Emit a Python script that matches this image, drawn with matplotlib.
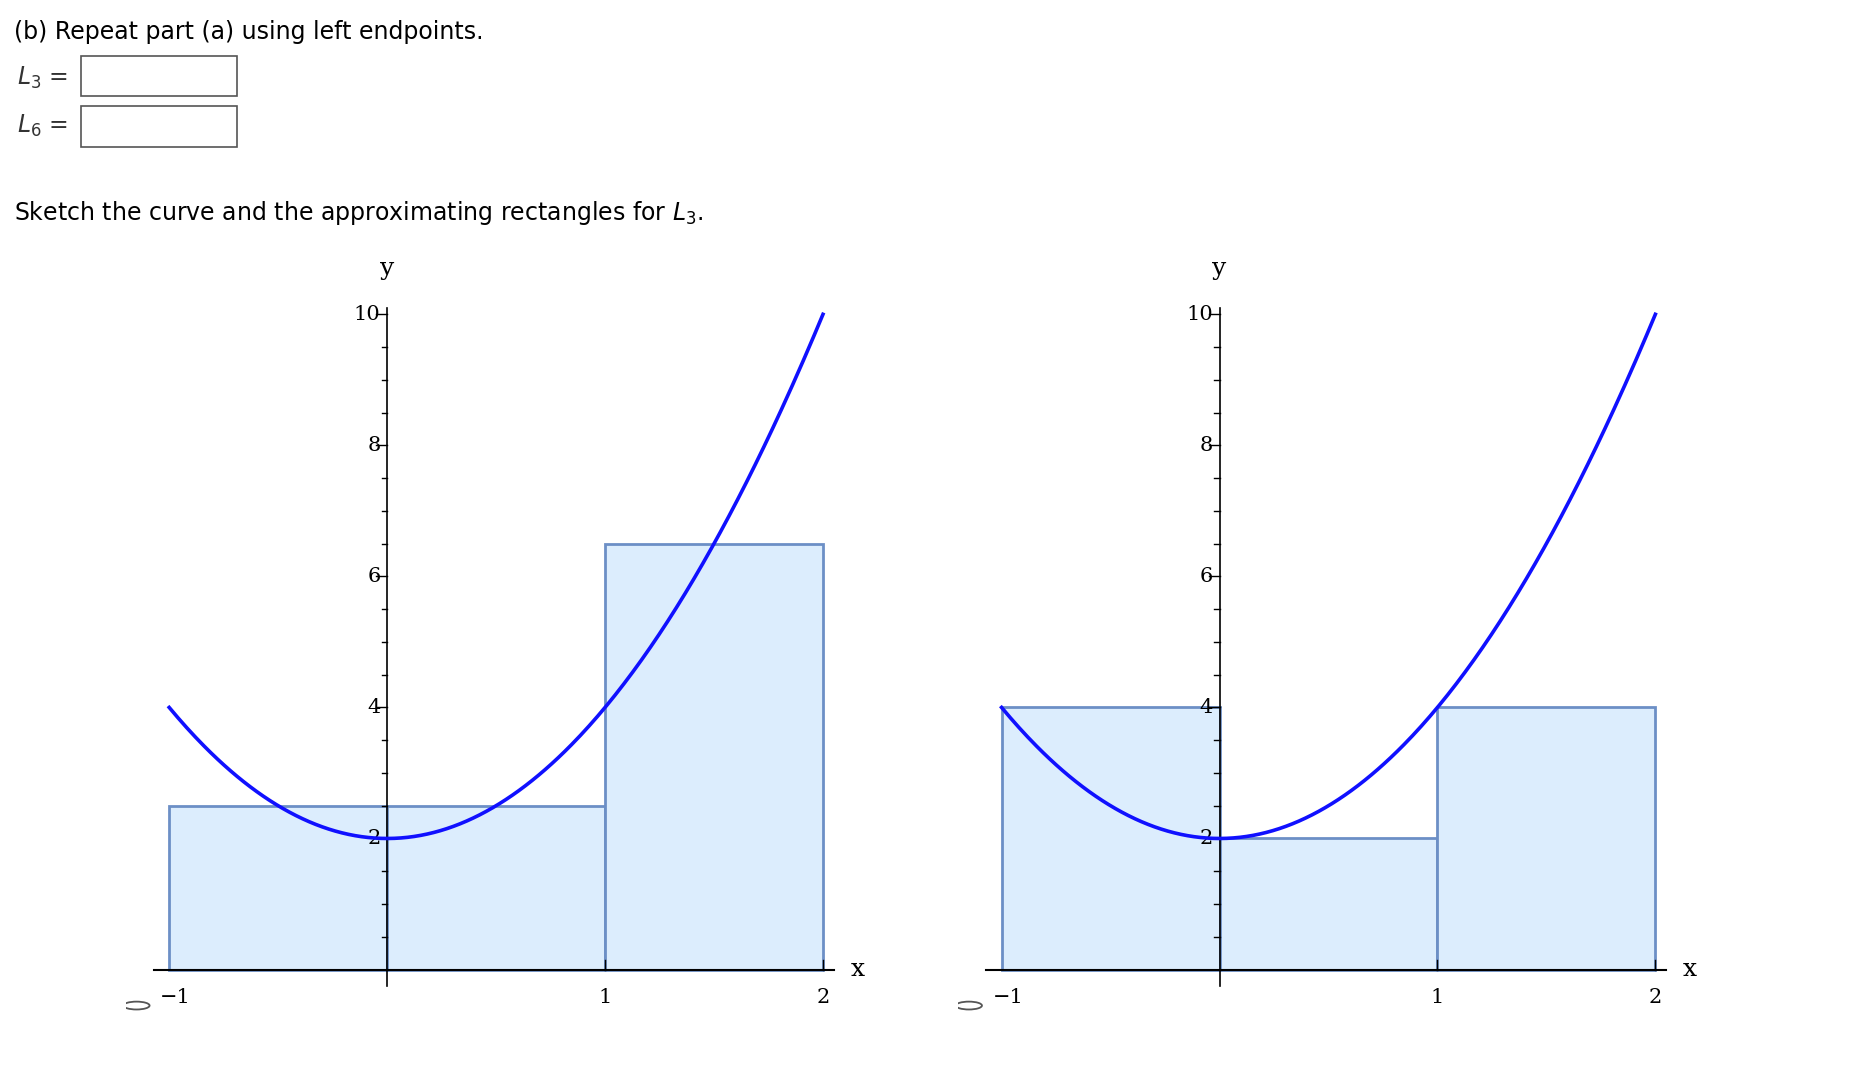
import matplotlib
matplotlib.use("Agg")
import matplotlib.pyplot as plt
from matplotlib.patches import Rectangle, Circle
import numpy as np

edges = [-1, 0, 1, 2]
heights_left = [2.5, 2.5, 6.5]
heights_right = [4, 2, 4]
yticks = [2, 4, 6, 8, 10]
xticks = [1, 2]

def f(x):
    return 2 + 2 * x ** 2

W, H = 1560, 900
fig = plt.figure(figsize=(18.58, 10.72), dpi=100)
fig.patch.set_facecolor("white")
sans = "DejaVu Sans"
fs = 17

def fx(px): return px / W
def fy(py): return 1 - py / H

fig.text(fx(12), fy(27), "(b) Repeat part (a) using left endpoints.", fontsize=fs, va="center", family=sans)
fig.text(fx(14), fy(65), "$L_3$ =", fontsize=fs, va="center", family=sans, color="#333")
fig.text(fx(14), fy(106), "$L_6$ =", fontsize=fs, va="center", family=sans, color="#333")
for yy in (47, 89):
    fig.patches.append(Rectangle((fx(68), fy(yy + 34)), fx(131), 34 / H, transform=fig.transFigure,
                                 facecolor="white", edgecolor="#555", lw=1.2))
fig.text(fx(12), fy(179), "Sketch the curve and the approximating rectangles for $L_3$.", fontsize=fs, va="center", family=sans)

serif = "DejaVu Serif"
for x0, heights in ((0.0676, heights_left), (0.5156, heights_right)):
    ax = fig.add_axes([x0, 0.0467, 0.3988, 0.709])
    ax.set_xlim(-1.2, 2.2)
    ax.set_ylim(-0.8, 10.8)
    ax.axis("off")
    for i, h in enumerate(heights):
        ax.add_patch(Rectangle((edges[i], 0), edges[i + 1] - edges[i], h,
                               facecolor="#dcedfd", edgecolor="#6c8fc6", lw=2, zorder=1))
    ax.plot([-1.07, 2.05], [0, 0], color="black", lw=1.5, zorder=2)
    ax.plot([0, 0], [-0.25, 10.1], color="black", lw=1.2, zorder=2)
    for t in np.arange(0.5, 10.01, 0.5):
        L = 0.05 if t in yticks else 0.025
        ax.plot([-L, 0], [t, t], color="black", lw=1, zorder=2)
    for t in yticks:
        ax.text(-0.03, t, str(t), ha="right", va="center", fontsize=15, family=serif, zorder=3)
    for t in xticks:
        ax.plot([t, t], [0, 0.15], color="black", lw=1, zorder=2)
        ax.text(t, -0.43, str(t), ha="center", va="center", fontsize=15, family=serif)
    ax.text(-0.97, -0.43, "−1", ha="center", va="center", fontsize=15, family=serif)
    ax.text(0, 10.7, "y", ha="center", va="center", fontsize=18, family=serif)
    ax.text(2.16, 0.0, "x", ha="center", va="center", fontsize=18, family=serif)
    xs = np.linspace(-1, 2, 300)
    ax.plot(xs, f(xs), color="#1010ff", lw=2.6, zorder=4)
    ax.add_patch(Circle((-1.15, -0.55), 0.06, transform=ax.transData, facecolor="white",
                        edgecolor="#555", lw=1.3, zorder=5))
    ax.patches[-1].set_transform(ax.transData)

fig.savefig("out.png", dpi=100)
